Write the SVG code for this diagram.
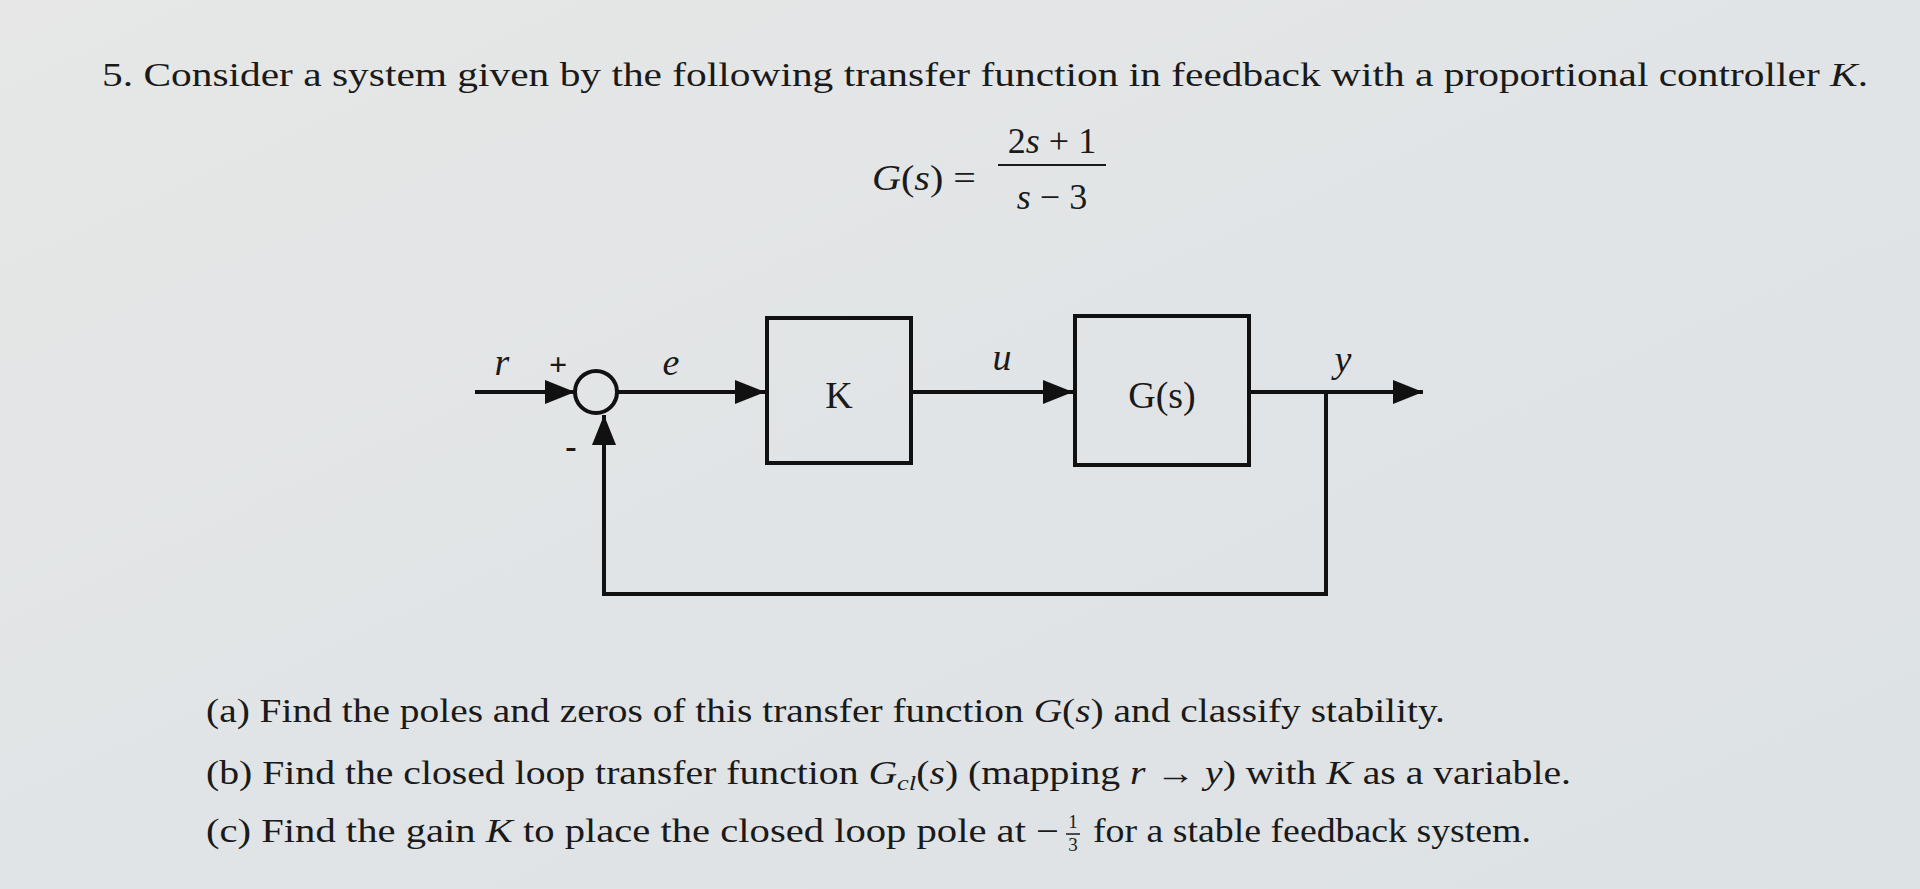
<svg xmlns="http://www.w3.org/2000/svg" width="1920" height="889" viewBox="0 0 1920 889">
<defs>
<marker id="ab" viewBox="0 0 10 8" markerWidth="30" markerHeight="24" refX="10" refY="4" orient="auto" markerUnits="userSpaceOnUse"><path d="M0,0 L10,4 L0,8 Z" fill="#111"/></marker>
<linearGradient id="bg" x1="0" y1="0" x2="1" y2="1"><stop offset="0" stop-color="#e6e7e6"/><stop offset="0.5" stop-color="#e1e4e6"/><stop offset="1" stop-color="#dde2e4"/></linearGradient>
</defs>
<style>
text{font-family:"Liberation Serif","DejaVu Serif",serif;fill:#1a1a1a}
.t{font-size:33px}
.e{font-size:36px}
.l{font-size:38px;font-style:italic}
.i{font-style:italic}
.b{fill:none;stroke:#111;stroke-width:4}
.w{fill:none;stroke:#111;stroke-width:4}
</style>
<rect width="1920" height="889" fill="url(#bg)"/>
<text class="t" x="102" y="86" textLength="1766" lengthAdjust="spacingAndGlyphs">5. Consider a system given by the following transfer function in feedback with a proportional controller <tspan class="i">K</tspan>.</text>
<g id="eq">
<text class="e" x="872" y="190" textLength="104" lengthAdjust="spacingAndGlyphs"><tspan class="i">G</tspan>(<tspan class="i">s</tspan>) =</text>
<text class="e" x="1052" y="153" text-anchor="middle"><tspan>2</tspan><tspan class="i">s</tspan> + 1</text>
<line x1="998" y1="165" x2="1106" y2="165" stroke="#1a1a1a" stroke-width="2"/>
<text class="e" x="1052" y="209" text-anchor="middle"><tspan class="i">s</tspan> − 3</text>
</g>
<g id="sum"><circle cx="596" cy="392" r="21" class="b"/></g>
<g id="K"><rect x="767" y="318" width="144" height="145" class="b"/><text x="839" y="408" font-size="38" text-anchor="middle">K</text></g>
<g id="G"><rect x="1075" y="316" width="174" height="149" class="b"/><text x="1162" y="408" font-size="38" text-anchor="middle">G(s)</text></g>
<g id="connectors">
<line x1="475" y1="392" x2="575" y2="392" class="w" marker-end="url(#ab)"/>
<line x1="617" y1="392" x2="765" y2="392" class="w" marker-end="url(#ab)"/>
<line x1="911" y1="392" x2="1073" y2="392" class="w" marker-end="url(#ab)"/>
<line x1="1249" y1="392" x2="1423" y2="392" class="w" marker-end="url(#ab)"/>
<polyline points="1326,392 1326,594 604,594 604,415" class="w" marker-end="url(#ab)"/>
</g>
<g id="labels">
<text class="l" x="502" y="375" text-anchor="middle">r</text>
<text x="558" y="375" font-size="32" font-weight="bold" font-family="Liberation Sans" text-anchor="middle">+</text>
<text x="571" y="458" font-size="34" font-weight="bold" font-family="Liberation Sans" text-anchor="middle">-</text>
<text class="l" x="671" y="375" text-anchor="middle">e</text>
<text class="l" x="1002" y="370" text-anchor="middle">u</text>
<text class="l" x="1343" y="372" text-anchor="middle">y</text>
</g>
<text class="t" x="206" y="722" textLength="1239" lengthAdjust="spacingAndGlyphs">(a) Find the poles and zeros of this transfer function <tspan class="i">G</tspan>(<tspan class="i">s</tspan>) and classify stability.</text>
<text class="t" x="206" y="784" textLength="1365" lengthAdjust="spacingAndGlyphs">(b) Find the closed loop transfer function <tspan class="i">G</tspan><tspan font-size="22" dy="6" class="i">cl</tspan><tspan dy="-6">(</tspan><tspan class="i">s</tspan>) (mapping <tspan class="i">r</tspan> → <tspan class="i">y</tspan>) with <tspan class="i">K</tspan> as a variable.</text>
<text class="t" x="206" y="842" textLength="853" lengthAdjust="spacingAndGlyphs">(c) Find the gain <tspan class="i">K</tspan> to place the closed loop pole at −</text>
<g id="frac"><text x="1073" y="828" font-size="19" text-anchor="middle">1</text><line x1="1066" y1="834" x2="1080" y2="834" stroke="#1a1a1a" stroke-width="1.5"/><text x="1073" y="851" font-size="19" text-anchor="middle">3</text></g>
<text class="t" x="1093" y="842" textLength="438" lengthAdjust="spacingAndGlyphs">for a stable feedback system.</text>
</svg>
